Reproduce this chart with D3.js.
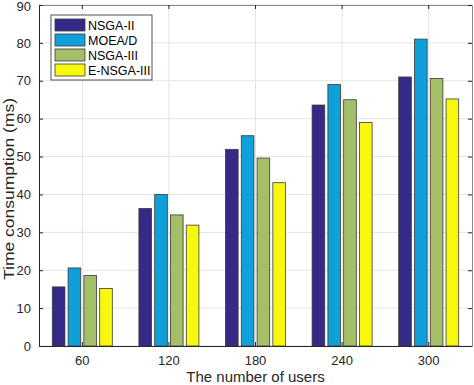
<!DOCTYPE html>
<html>
<head>
<meta charset="utf-8">
<script src="https://cdn.jsdelivr.net/npm/d3@7"></script>
<style>
  body { margin: 0; background: #fff; }
  svg { font-family: "Liberation Sans", Arial, sans-serif; }
</style>
</head>
<body>
<svg id="chart" width="474" height="385"></svg>
<script>
// data
var users = ["60", "120", "180", "240", "300"];
var algorithms = ["NSGA-II", "MOEA/D", "NSGA-III", "E-NSGA-III"];
var nsga2 = [15.6, 36.3, 51.9, 63.6, 71.0];
var moead = [20.6, 40.0, 55.5, 69.0, 81.0];
var nsga3 = [18.6, 34.6, 49.6, 65.0, 70.6];
var ensga3 = [15.2, 31.9, 43.1, 59.0, 65.2];
var yTicks = [0, 10, 20, 30, 40, 50, 60, 70, 80, 90];
var colors = ["#352a87", "#0f9fd9", "#a5bf69", "#f8f80f"];

var series = [nsga2, moead, nsga3, ensga3];

var svg = d3.select("#chart");
var margin = {left: 39, right: 2, top: 5, bottom: 39};
var W = 474, H = 385;
var x0 = margin.left, x1 = W - margin.right;
var y0 = H - margin.bottom, y1 = margin.top;

var x = d3.scaleBand().domain(users).range([x0, x1]).padding(0);
var xi = d3.scaleBand().domain(d3.range(algorithms.length))
    .range([-30, 30]).paddingInner(0.2);
var y = d3.scaleLinear().domain([0, 90]).range([y0, y1]);

// grid
svg.append("g").selectAll("line").data(yTicks).enter().append("line")
    .attr("x1", x0).attr("x2", x1)
    .attr("y1", function(d) { return y(d); }).attr("y2", function(d) { return y(d); })
    .attr("stroke", "#e3e3e3").attr("stroke-width", 1);
svg.append("g").selectAll("line").data(users).enter().append("line")
    .attr("x1", function(d) { return x(d) + x.bandwidth() / 2; })
    .attr("x2", function(d) { return x(d) + x.bandwidth() / 2; })
    .attr("y1", y0).attr("y2", y1)
    .attr("stroke", "#e3e3e3").attr("stroke-width", 1);

// bars
series.forEach(function(vals, s) {
    svg.append("g").selectAll("rect").data(vals).enter().append("rect")
        .attr("x", function(d, i) { return x(users[i]) + x.bandwidth() / 2 + xi(s); })
        .attr("width", xi.bandwidth())
        .attr("y", function(d) { return y(d); })
        .attr("height", function(d) { return y0 - y(d); })
        .attr("fill", colors[s])
        .attr("stroke", "#3a3a3a")
        .attr("stroke-width", 0.8);
});

// axes (box with inward ticks)
var axisColor = "#262626";
var axBottom = svg.append("g").attr("transform", "translate(0," + y0 + ")")
    .call(d3.axisBottom(x).tickSizeInner(-4).tickSizeOuter(0).tickPadding(10));
var axTop = svg.append("g").attr("transform", "translate(0," + y1 + ")")
    .call(d3.axisTop(x).tickSizeInner(-4).tickSizeOuter(0).tickFormat(""));
var axLeft = svg.append("g").attr("transform", "translate(" + x0 + ",0)")
    .call(d3.axisLeft(y).tickValues(yTicks).tickSizeInner(-4).tickSizeOuter(0).tickPadding(8));
var axRight = svg.append("g").attr("transform", "translate(" + x1 + ",0)")
    .call(d3.axisRight(y).tickValues(yTicks).tickSizeInner(-4).tickSizeOuter(0).tickFormat(""));
[axBottom, axTop, axLeft, axRight].forEach(function(g) {
    g.select(".domain").attr("stroke", "#8a8a8a");
    g.selectAll(".tick line").attr("stroke", axisColor);
    g.selectAll("text").attr("fill", "#262626").attr("font-size", "13px")
        .attr("font-family", "Liberation Sans, Arial, sans-serif");
});
axBottom.select(".domain").attr("stroke", axisColor);
axLeft.select(".domain").attr("stroke", axisColor);
// keep the top label inside the page
axLeft.selectAll(".tick text").filter(function(d) { return d === 90; }).attr("dy", "0.45em");

// axis labels
svg.append("text")
    .attr("x", (x0 + x1) / 2).attr("y", 382)
    .attr("text-anchor", "middle")
    .attr("font-size", "15px").attr("fill", "#262626")
    .text("The number of users");
svg.append("text")
    .attr("transform", "translate(14,189) rotate(-90)")
    .attr("text-anchor", "middle")
    .attr("font-size", "15px").attr("fill", "#262626")
    .attr("textLength", 182).attr("lengthAdjust", "spacingAndGlyphs")
    .text("Time consumption (ms)");

// legend
var legend = svg.append("g").attr("transform", "translate(51,15)");
legend.append("rect")
    .attr("width", 101).attr("height", 65)
    .attr("fill", "#fff").attr("stroke", "#262626").attr("stroke-width", 0.8);
var item = legend.selectAll(".item").data(algorithms).enter().append("g")
    .attr("transform", function(d, i) { return "translate(0," + (4 + i * 15) + ")"; });
item.append("rect")
    .attr("x", 4).attr("y", 0).attr("width", 30).attr("height", 12)
    .attr("fill", function(d, i) { return colors[i]; })
    .attr("stroke", "#3a3a3a").attr("stroke-width", 0.8);
item.append("text")
    .attr("x", 37).attr("y", 11)
    .attr("font-size", "12.5px").attr("fill", "#000")
    .text(function(d) { return d; });
</script>
</body>
</html>
